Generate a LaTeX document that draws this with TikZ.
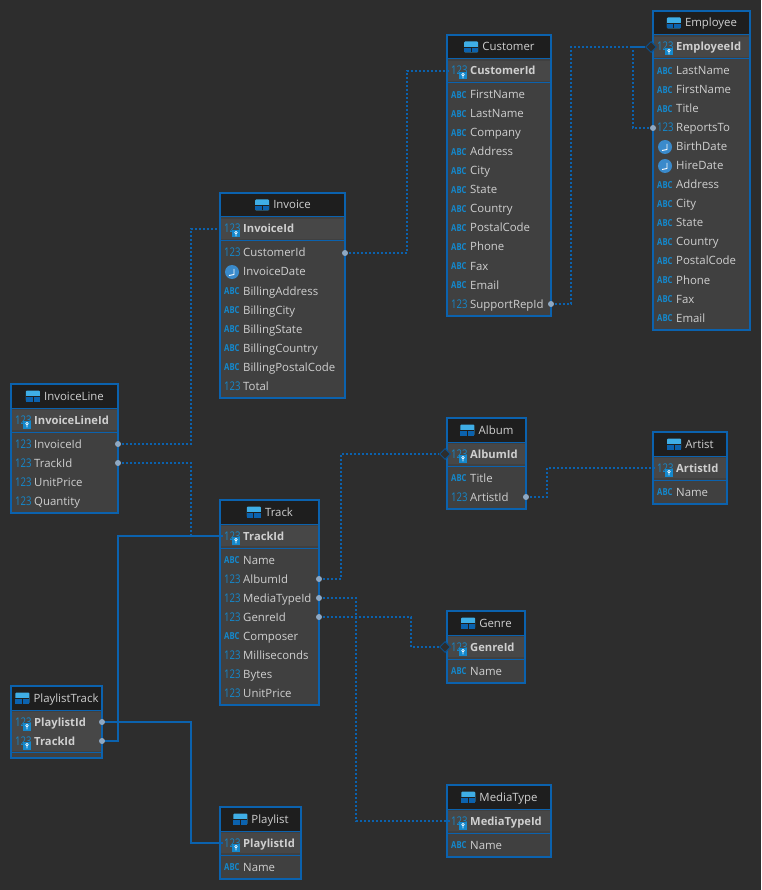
\documentclass[tikz,border=0pt]{standalone}
\usepackage{fontspec}
\setmainfont{Open Sans}
\usetikzlibrary{positioning,shapes.geometric}
\definecolor{canvas}{HTML}{2D2D2D}
\definecolor{rowfill}{HTML}{404040}
\definecolor{keyfill}{HTML}{474747}
\definecolor{headfill}{HTML}{1E1E1E}
\definecolor{edgeblue}{HTML}{0B62AE}
\definecolor{iconblue}{HTML}{1488CC}
\definecolor{clockblue}{HTML}{3A8ACB}
\definecolor{lighttab}{HTML}{3FAEE6}
\definecolor{labelgrey}{HTML}{CFCFCF}
\definecolor{dotgrey}{HTML}{8FA8C2}
\definecolor{dmdedge}{HTML}{0B4F8A}
\tikzset{
  tablebox/.style={fill=rowfill,anchor=north west,inner sep=0pt,outer sep=0pt},
  rowbox/.style={inner sep=0pt,outer sep=0pt,minimum height=19pt},
  fieldtext/.style={inner sep=0pt,anchor=west,text=labelgrey,font=\fontsize{11.4}{13}\selectfont,text height=9pt,text depth=3pt},
  keytext/.style={fieldtext,font=\fontsize{11.2}{13}\selectfont\bfseries},
  numtext/.style={inner sep=0pt,anchor=west,text=iconblue,font=\fontsize{12}{13}\selectfont,text height=9pt,text depth=2pt},
  abctext/.style={inner sep=0pt,anchor=west,text=iconblue,font=\fontsize{9.6}{10}\selectfont\bfseries},
  fk/.style={draw=edgeblue,line width=2pt,dash pattern=on 2pt off 2pt},
  ident/.style={draw=edgeblue,line width=2pt},
  bullet/.style={circle,fill=dotgrey,inner sep=0pt,minimum size=6pt,solid},
  dmd/.style={diamond,draw=dmdedge,fill=canvas,line width=1pt,inner sep=0pt,minimum size=11pt,solid}
}
% row icons, each placed from the west side of its row
\newcommand{\iconnum}[1]{\node[numtext] at ([shift={(4pt,-0.5pt)}]#1.west) {\scalebox{.8}[1]{123}};}
\newcommand{\iconabc}[1]{\node[abctext] at ([shift={(4pt,-0.5pt)}]#1.west) {\scalebox{.8}[1]{ABC}};}
\newcommand{\iconclk}[1]{
  \fill[clockblue] ([xshift=12pt]#1.west) circle (7pt);
  \draw[white,line width=0.9pt] ([xshift=14pt,yshift=3pt]#1.west) -- ([xshift=14pt,yshift=-2.5pt]#1.west) -- ([xshift=9pt,yshift=-3.5pt]#1.west);
}
% table frame, title and its primary key rows
\newcommand{\erdtable}[6]{
  \node[tablebox,minimum width=#4pt,minimum height=#5pt] (#1) at (#2,#3) {};
  \fill[headfill] (#1.north west) rectangle ([yshift=-24pt]#1.north east);
  \node[fieldtext,anchor=center] (#1-title) at (#2+#4/2+9.5,#3+13) {#1};
  \node[fill=lighttab,rounded corners=1pt,minimum width=14pt,minimum height=11pt,inner sep=0pt,outer sep=0pt,left=4pt of #1-title,yshift=1pt] (#1-icon) {};
  \fill[edgeblue] (#1-icon.south west) rectangle ([yshift=5pt]#1-icon.south east);
  \draw[headfill,line width=0.7pt] (#1-icon.west) -- (#1-icon.east) (#1-icon.center) -- (#1-icon.south);
  \foreach \lab [count=\n from 0] in {#6} {
    \pgfmathsetmacro{\ry}{#3+36+19*\n}
    \pgfmathsetmacro{\rx}{#2+#4/2}
    \node[rowbox,minimum width=#4pt,fill=keyfill,minimum height=19.5pt] (#1-\lab) at (\rx,\ry) {};
    \node[keytext] (#1-\lab-text) at ([shift={(23pt,-1pt)}]#1-\lab.west) {\lab};
    \iconnum{#1-\lab}
    \fill[iconblue] ([shift={(12pt,-1pt)}]#1-\lab.west) rectangle ([shift={(20pt,-8.5pt)}]#1-\lab.west);
    \draw[white,line width=0.6pt] ([shift={(16pt,-3.6pt)}]#1-\lab.west) circle (1.3pt) ++(0,-1.3pt) -- ++(0,-2.4pt);
  }
}
% plain rows below the key part
\newcommand{\erdrows}[5]{
  \foreach \kind/\lab [count=\n from 0] in {#5} {
    \pgfmathsetmacro{\ry}{#3+19*\n}
    \pgfmathsetmacro{\rx}{#2+#4/2}
    \node[rowbox,minimum width=#4pt] (#1-\lab) at (\rx,\ry) {};
    \node[fieldtext] (#1-\lab-text) at ([shift={(23pt,-1pt)}]#1-\lab.west) {\lab};
    \csname icon\kind\endcsname{#1-\lab}
  }
}
% lines of the header and of the key part, then the frame
\newcommand{\erdlines}[2]{
  \draw[edgeblue,line width=1pt] ([yshift=-24pt]#1.north west) -- ([yshift=-24pt]#1.north east);
  \draw[edgeblue,line width=1pt] ([yshift=-#2pt]#1.north west) -- ([yshift=-#2pt]#1.north east);
  \draw[edgeblue,line width=2pt] (#1.south west) rectangle (#1.north east);
}
\begin{document}
\begin{tikzpicture}[x=1pt,y=-1pt]
  \fill[canvas] (0,0) rectangle (761,890);
  \useasboundingbox (0,0) rectangle (761,890);

  \erdtable{Customer}{447}{35}{104}{281}{CustomerId}
  \erdrows{Customer}{447}{95}{104}{abc/FirstName,abc/LastName,abc/Company,abc/Address,abc/City,abc/State,abc/Country,abc/PostalCode,abc/Phone,abc/Fax,abc/Email,num/SupportRepId}
  \erdlines{Customer}{48}

  \erdtable{Employee}{653}{11}{97}{319}{EmployeeId}
  \erdrows{Employee}{653}{71}{97}{abc/LastName,abc/FirstName,abc/Title,num/ReportsTo,clk/BirthDate,clk/HireDate,abc/Address,abc/City,abc/State,abc/Country,abc/PostalCode,abc/Phone,abc/Fax,abc/Email}
  \erdlines{Employee}{48}

  \erdtable{Invoice}{220}{193}{125}{205}{InvoiceId}
  \erdrows{Invoice}{220}{253}{125}{num/CustomerId,clk/InvoiceDate,abc/BillingAddress,abc/BillingCity,abc/BillingState,abc/BillingCountry,abc/BillingPostalCode,num/Total}
  \erdlines{Invoice}{48}

  \erdtable{InvoiceLine}{11}{384}{107}{129}{InvoiceLineId}
  \erdrows{InvoiceLine}{11}{444}{107}{num/InvoiceId,num/TrackId,num/UnitPrice,num/Quantity}
  \erdlines{InvoiceLine}{48}

  \erdtable{Track}{220}{500}{99}{205}{TrackId}
  \erdrows{Track}{220}{560}{99}{abc/Name,num/AlbumId,num/MediaTypeId,num/GenreId,abc/Composer,num/Milliseconds,num/Bytes,num/UnitPrice}
  \erdlines{Track}{48}

  \erdtable{Album}{447}{418}{79}{91}{AlbumId}
  \erdrows{Album}{447}{478}{79}{abc/Title,num/ArtistId}
  \erdlines{Album}{48}

  \erdtable{Artist}{653}{432}{74}{72}{ArtistId}
  \erdrows{Artist}{653}{492}{74}{abc/Name}
  \erdlines{Artist}{48}

  \erdtable{Genre}{447}{611}{78}{72}{GenreId}
  \erdrows{Genre}{447}{671}{78}{abc/Name}
  \erdlines{Genre}{48}

  \erdtable{MediaType}{447}{785}{104}{72}{MediaTypeId}
  \erdrows{MediaType}{447}{845}{104}{abc/Name}
  \erdlines{MediaType}{48}

  \erdtable{PlaylistTrack}{11}{686}{91}{72}{PlaylistId,TrackId}
  \erdlines{PlaylistTrack}{66}

  \erdtable{Playlist}{220}{807}{81}{72}{PlaylistId}
  \erdrows{Playlist}{220}{867}{81}{abc/Name}
  \erdlines{Playlist}{48}

  % solid links first, the dotted ones run over them
  \draw[ident] (PlaylistTrack-TrackId.east) node[bullet] {} -- ++(16,0) |- ([xshift=3pt]Track-TrackId.west);
  \draw[ident] (PlaylistTrack-PlaylistId.east) node[bullet] {} -- ++(89,0) |- ([xshift=3pt]Playlist-PlaylistId.west);

  \node[dmd] (EmployeeDmd) at ([xshift=-2pt]Employee-EmployeeId.west) {};
  \node[dmd] (AlbumDmd) at ([xshift=-2pt]Album-AlbumId.west) {};
  \node[dmd] (GenreDmd) at ([xshift=-2pt]Genre-GenreId.west) {};

  \draw[fk] (InvoiceLine-InvoiceId.east) node[bullet] {} -- ++(73,0) |- ([xshift=3pt]Invoice-InvoiceId.west);
  \draw[fk] (InvoiceLine-TrackId.east) node[bullet] {} -- ++(73,0) |- (Track-TrackId.west);
  \draw[fk] (Invoice-CustomerId.east) node[bullet] {} -- ++(62,0) |- ([xshift=3pt]Customer-CustomerId.west);
  \draw[fk] (Customer-SupportRepId.east) node[bullet] {} -- ++(20,0) |- (EmployeeDmd.west);
  \draw[fk] (Employee-ReportsTo.west) node[bullet] {} -- ++(-20,0) |- (EmployeeDmd.west);
  \draw[fk] (Track-AlbumId.east) node[bullet] {} -- ++(22,0) |- (AlbumDmd.west);
  \draw[fk] (Album-ArtistId.east) node[bullet] {} -- ++(21,0) |- ([xshift=3pt]Artist-ArtistId.west);
  \draw[fk] (Track-MediaTypeId.east) node[bullet] {} -- ++(37,0) |- ([xshift=3pt]MediaType-MediaTypeId.west);
  \draw[fk] (Track-GenreId.east) node[bullet] {} -- ++(92,0) |- (GenreDmd.west);
\end{tikzpicture}
\end{document}
